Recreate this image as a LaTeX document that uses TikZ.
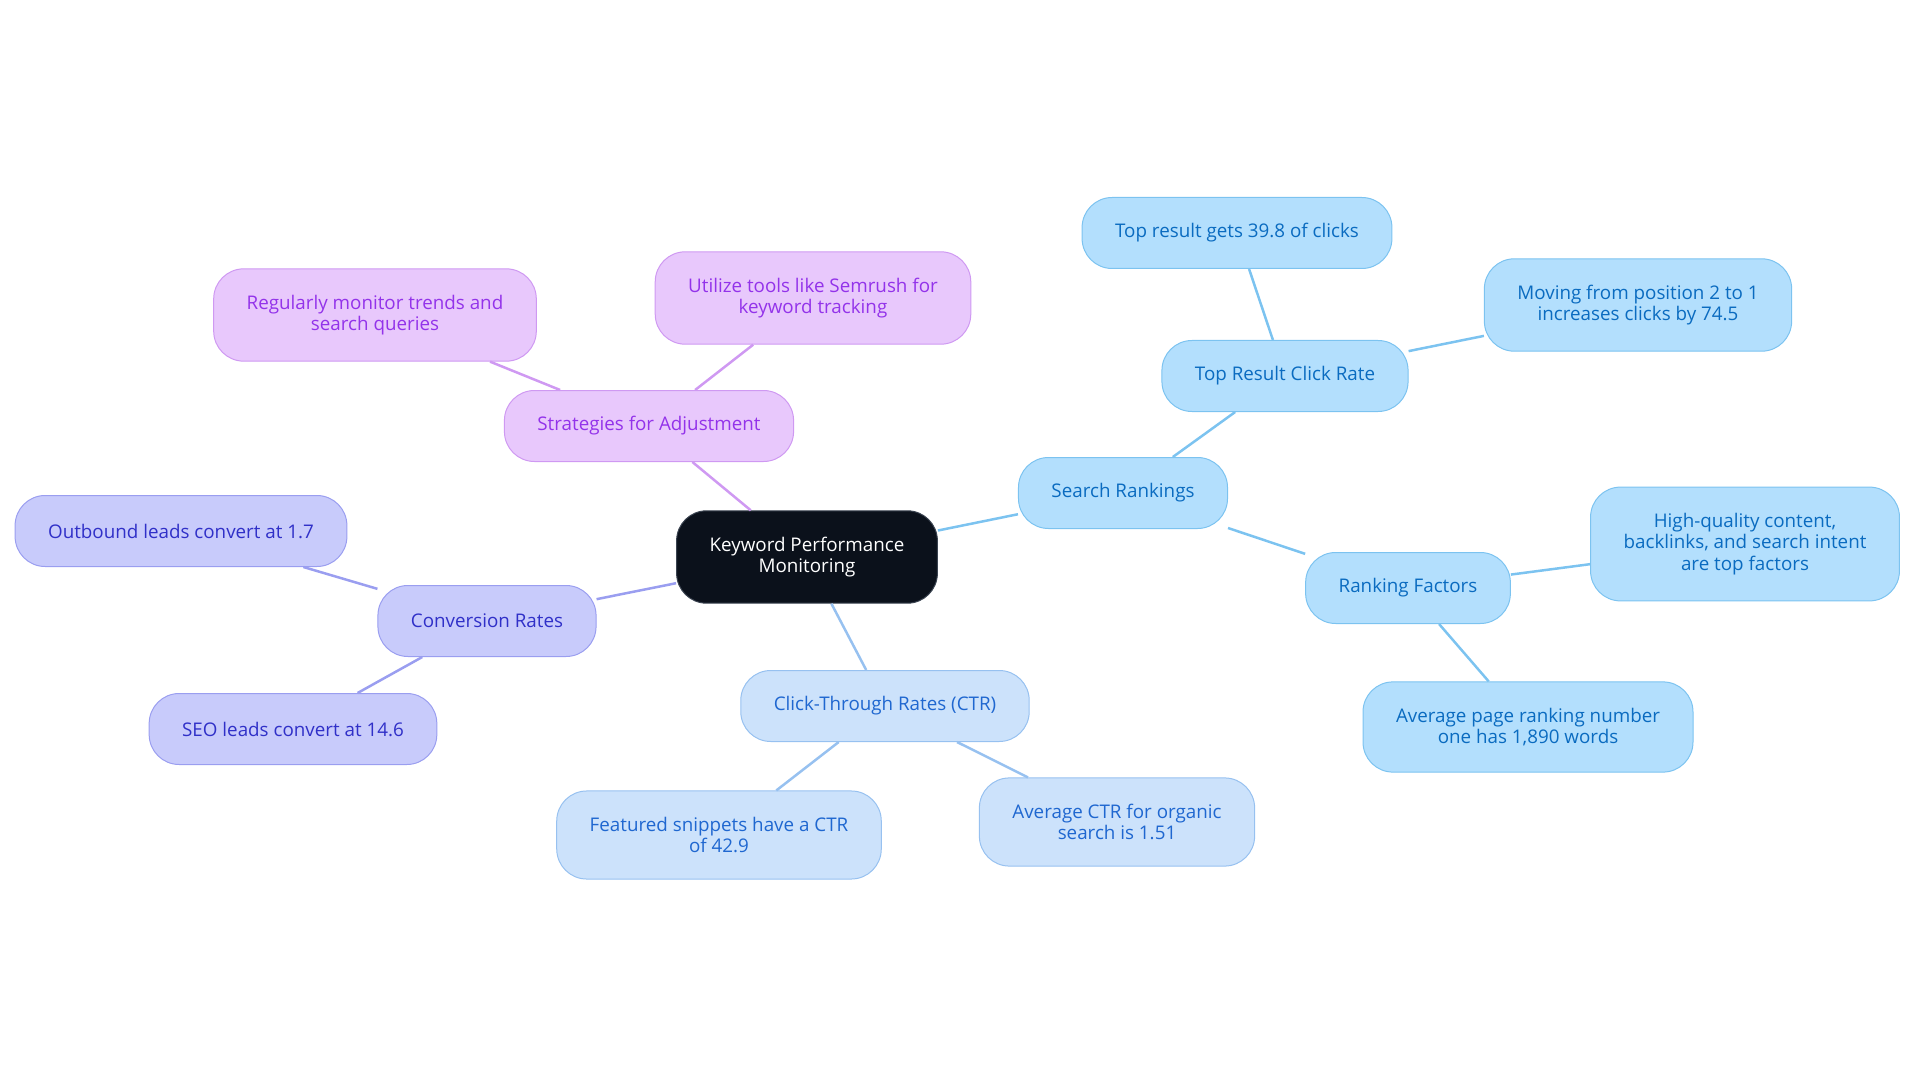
\documentclass[tikz,border=0pt]{standalone}
\usepackage{fontspec}
\setmainfont{Open Sans}
\usetikzlibrary{positioning}

\definecolor{rootfill}{HTML}{0B111B}
\definecolor{rootdraw}{HTML}{3A4350}
\definecolor{skyfill}{HTML}{B3DFFD}
\definecolor{skydraw}{HTML}{7CC3F0}
\definecolor{skytext}{HTML}{0A6BC0}
\definecolor{palefill}{HTML}{CCE2FB}
\definecolor{paledraw}{HTML}{97C1F0}
\definecolor{paletext}{HTML}{1F67D0}
\definecolor{indfill}{HTML}{C8CBFB}
\definecolor{inddraw}{HTML}{9A9EF0}
\definecolor{indtext}{HTML}{3030C8}
\definecolor{lilfill}{HTML}{E8C8FC}
\definecolor{lildraw}{HTML}{CF99F2}
\definecolor{liltext}{HTML}{9333EA}

\begin{document}
\begin{tikzpicture}[
x=1pt, y=-1pt,
box/.style={draw, rounded corners=30pt, align=center, inner xsep=33pt, inner ysep=26pt, minimum height=71pt, line width=1pt, font=\fontsize{18.8}{21.5}\selectfont},
root/.style={box, fill=rootfill, draw=rootdraw, text=white},
sky/.style={box, fill=skyfill, draw=skydraw, text=skytext},
pale/.style={box, fill=palefill, draw=paledraw, text=paletext},
ind/.style={box, fill=indfill, draw=inddraw, text=indtext},
lil/.style={box, fill=lilfill, draw=lildraw, text=liltext},
link/.style={line width=2.5pt}
]
\useasboundingbox (0,0) rectangle (1920,1083);

\node[root] (kpm) at (807,557) {Keyword Performance\\Monitoring};

\node[lil] (strat) at (649,426) {Strategies for Adjustment};
\node[lil] (trends) at (375,315) {Regularly monitor trends and\\search queries};
\node[lil] (tools) at (813,298) {Utilize tools like Semrush for\\keyword tracking};

\node[ind] (conv) at (487,621) {Conversion Rates};
\node[ind] (outbound) at (181,531) {Outbound leads convert at 1.7};
\node[ind] (seo) at (293,729) {SEO leads convert at 14.6};

\node[pale] (ctr) at (885,706) {Click-Through Rates (CTR)};
\node[pale] (snippet) at (719,835) {Featured snippets have a CTR\\of 42.9};
\node[pale] (organic) at (1117,822) {Average CTR for organic\\search is 1.51};

\node[sky] (search) at (1123,493) {Search Rankings};
\node[sky] (topclick) at (1285,376) {Top Result Click Rate};
\node[sky] (topres) at (1237,233) {Top result gets 39.8 of clicks};
\node[sky] (moving) at (1638,305) {Moving from position 2 to 1\\increases clicks by 74.5};
\node[sky] (factors) at (1408,588) {Ranking Factors};
\node[sky] (quality) at (1745,544) {High-quality content,\\backlinks, and search intent\\are top factors};
\node[sky] (words) at (1528,727) {Average page ranking number\\one has 1,890 words};

% branches
\draw[link, draw=lildraw] (kpm) -- (strat);
\draw[link, draw=lildraw] (strat) -- (trends);
\draw[link, draw=lildraw] (strat) -- (tools);
\draw[link, draw=inddraw] (kpm) -- (conv);
\draw[link, draw=inddraw] (conv) -- (outbound);
\draw[link, draw=inddraw] (conv) -- (seo);
\draw[link, draw=paledraw] (kpm) -- (ctr);
\draw[link, draw=paledraw] (ctr) -- (snippet);
\draw[link, draw=paledraw] (ctr) -- (organic);
\draw[link, draw=skydraw] (kpm) -- (search);
\draw[link, draw=skydraw] (search) -- (topclick);
\draw[link, draw=skydraw] (topclick) -- (topres);
\draw[link, draw=skydraw] (topclick) -- (moving);
\draw[link, draw=skydraw] (search) -- (factors);
\draw[link, draw=skydraw] (factors) -- (quality);
\draw[link, draw=skydraw] (factors) -- (words);
\end{tikzpicture}
\end{document}
